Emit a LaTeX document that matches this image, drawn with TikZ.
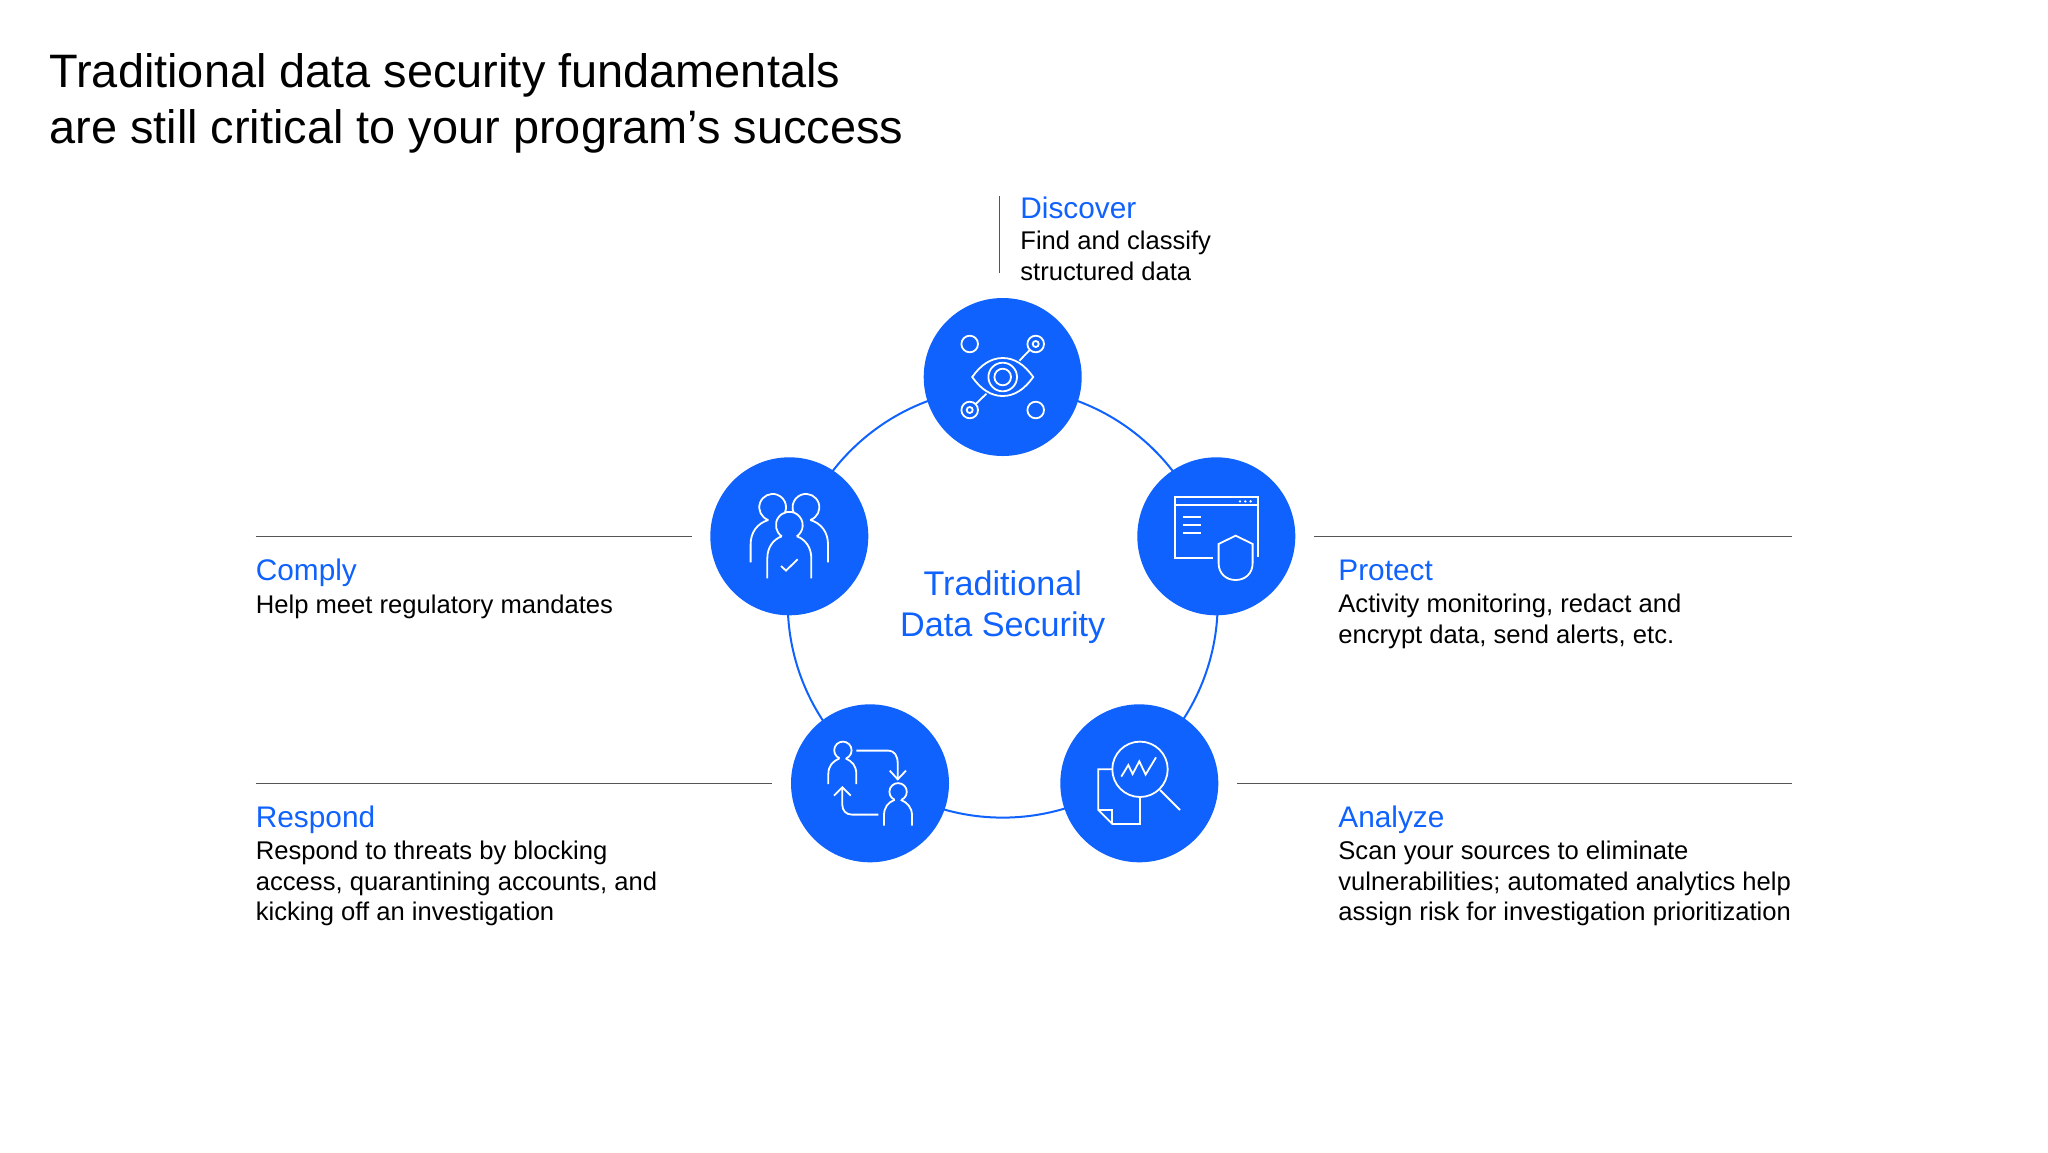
\documentclass[tikz,border=0pt]{standalone}
\usepackage{fontspec}
\setmainfont{Liberation Sans}
\definecolor{ibmblue}{HTML}{0F62FE}
\definecolor{ruleline}{HTML}{555555}
\tikzset{
    stagenode/.style={circle,fill=ibmblue,minimum size=79pt,inner sep=0pt},
    ringnode/.style={circle,draw=ibmblue,line width=1pt,minimum size=215pt,inner sep=0pt},
    iconline/.style={white,line width=0.9pt},
    leaderline/.style={ruleline,line width=0.55pt},
    headtext/.style={anchor=base west,inner sep=0pt,text=ibmblue,font=\fontsize{14.9}{17}\selectfont},
    bodytext/.style={anchor=north west,inner sep=0pt,align=left,text=black,font=\fontsize{12.8}{15.35}\selectfont},
}
\begin{document}
\begin{tikzpicture}[x=0.5pt,y=-0.5pt]
    \useasboundingbox (0,0) rectangle (2048,1152);
    \node[anchor=north west,inner sep=0pt,align=left,font=\fontsize{23.45}{28}\selectfont] (title) at (49,53) {Traditional data security fundamentals\\are still critical to your program’s success};

    \node[ringnode] (ring) at (1002.7,602.6) {};
    \node[stagenode] (discover) at (1002.7,377) {};
    \node[stagenode] (protect) at (1216.3,536.3) {};
    \node[stagenode] (analyze) at (1139.3,783.3) {};
    \node[stagenode] (respond) at (870,783.3) {};
    \node[stagenode] (comply) at (789.3,536.3) {};
    \node[anchor=center,align=center,inner sep=0pt,text=ibmblue,font=\fontsize{17.1}{20.5}\selectfont] (center) at (1002.7,607.5) {Traditional\\Data Security};

    % leader rules
    \coordinate (discoverA) at (999.5,196);
    \coordinate (discoverB) at (999.5,273);
    \coordinate (protectA) at (1314,536.5);
    \coordinate (protectB) at (1792,536.5);
    \coordinate (analyzeA) at (1237,783.5);
    \coordinate (analyzeB) at (1792,783.5);
    \coordinate (respondA) at (255.5,783.5);
    \coordinate (respondB) at (772,783.5);
    \coordinate (complyA) at (255.5,536.5);
    \coordinate (complyB) at (691.5,536.5);
    \draw[leaderline] (discoverA) -- (discoverB);
    \draw[leaderline] (protectA) -- (protectB);
    \draw[leaderline] (analyzeA) -- (analyzeB);
    \draw[leaderline] (respondA) -- (respondB);
    \draw[leaderline] (complyA) -- (complyB);

    % labels
    \node[headtext] (discoverhead) at (1020,218) {Discover};
    \node[bodytext] (discoverbody) at (1020,230.5) {Find and classify\\structured data};
    \node[headtext] (protecthead) at (1338,580) {Protect};
    \node[bodytext] (protectbody) at (1338,593.5) {Activity monitoring, redact and\\encrypt data, send alerts, etc.};
    \node[headtext] (analyzehead) at (1338,827) {Analyze};
    \node[bodytext] (analyzebody) at (1338,840.5) {Scan your sources to eliminate\\vulnerabilities; automated analytics help\\assign risk for investigation prioritization};
    \node[headtext] (respondhead) at (255.5,827) {Respond};
    \node[bodytext] (respondbody) at (255.5,840.5) {Respond to threats by blocking\\access, quarantining accounts, and\\kicking off an investigation};
    \node[headtext] (complyhead) at (255.5,580) {Comply};
    \node[bodytext] (complybody) at (255.5,594.5) {Help meet regulatory mandates};

    % eye icon
    \begin{scope}[shift={(discover)},iconline]
        \draw (-30.5,0) .. controls (-22,-12) and (-12,-19) .. (0,-19) .. controls (12,-19) and (22,-12) .. (30.5,0) .. controls (22,12) and (12,19) .. (0,19) .. controls (-12,19) and (-22,12) .. (-30.5,0) -- cycle;
        \draw (0,0) circle (14.3);
        \draw (0,0) circle (8.3);
        \draw (-33,-33) circle (8.3);
        \draw (33,33) circle (8.3);
        \draw (33,-33) circle (8.3);
        \draw (33,-33) circle (3);
        \draw (-33,33) circle (8.3);
        \draw (-33,33) circle (3);
        \draw (16.7,-16.3) -- (26.7,-26.7);
        \draw (-16.3,16.7) -- (-26.7,26.7);
    \end{scope}

    % window and shield icon
    \begin{scope}[shift={(protect)},iconline]
        \draw (-3,21.7) -- (-41.3,21.7) -- (-41.3,-39) -- (42,-39) -- (42,21);
        \draw (-41.3,-31.3) -- (42,-31.3);
        \fill (23.7,-34.9) circle (1.3);
        \fill (29,-34.9) circle (1.3);
        \fill (34.3,-34.9) circle (1.3);
        \draw (-33.7,-19.7) -- (-15.3,-19.7);
        \draw (-33.7,-11.3) -- (-15.3,-11.3);
        \draw (-33.7,-3.3) -- (-15.3,-3.3);
        \draw (19.3,-0.7) -- (36.3,7.7) -- (36.3,27) .. controls (36.3,37) and (29,43.7) .. (19.3,43.7) .. controls (9.6,43.7) and (2.3,37) .. (2.3,27) -- (2.3,7.7) -- cycle;
    \end{scope}

    % magnifier and document icon
    \begin{scope}[shift={(analyze)},iconline]
        \draw (0.7,-14) circle (27.7);
        \draw (20.7,6.7) -- (40.7,26.7);
        \draw (-18,-6.7) -- (-11,-18.3) -- (-6.7,-9.3) -- (0,-22) -- (6.3,-8.7) -- (16.7,-26);
        \draw (-27.3,-14) -- (-41,-14) -- (-41,26.7) -- (-27,40.7) -- (0.7,40.7) -- (0.7,13.3);
        \draw (-41,26.7) -- (-27.7,26.7) -- (-27.7,40.7);
    \end{scope}

    % two persons and arrows icon
    \begin{scope}[shift={(respond)},iconline]
        \draw (-30.5,-25) arc[start angle=113,end angle=427,radius=8.7];
        \draw (-30.5,-25) .. controls (-37,-22) and (-41.7,-18) .. (-41.7,-9) -- (-41.7,0.7);
        \draw (-24.5,-25) .. controls (-18,-22) and (-13.7,-18) .. (-13.7,-9) -- (-13.7,0.7);
        \draw (24.7,16.5) arc[start angle=113,end angle=427,radius=8.7];
        \draw (24.7,16.5) .. controls (18,19) and (14,24) .. (14,32) -- (14,42.3);
        \draw (30.7,16.5) .. controls (37,19) and (42,24) .. (42,32) -- (42,42.3);
        \draw (-13.7,-32.7) -- (18.3,-32.7) .. controls (24,-32.7) and (27.7,-28) .. (27.7,-20) -- (27.7,-4);
        \draw (19.7,-12.7) -- (27.7,-4) -- (36,-12.7);
        \draw (8.3,31.3) -- (-18.3,31.3) .. controls (-24,31.3) and (-27.7,27) .. (-27.7,21.7) -- (-27.7,4);
        \draw (-36,12.3) -- (-27.7,4) -- (-19.3,12.3);
    \end{scope}

    % three persons icon
    \begin{scope}[shift={(comply)},iconline]
        \draw (-21,-16.3) arc[start angle=109,end angle=384,radius=13.4];
        \draw (-21,-16.3) .. controls (-32,-13) and (-38.7,-4) .. (-38.7,8) -- (-38.7,26);
        \draw (21,-16.3) arc[start angle=71,end angle=-204,radius=13.4];
        \draw (21,-16.3) .. controls (32,-13) and (38.7,-4) .. (38.7,8) -- (38.7,26);
        \draw (-7.5,0) arc[start angle=124,end angle=416,radius=13.4];
        \draw (-7.5,0) .. controls (-16,3) and (-22,11) .. (-22,22) -- (-22,42);
        \draw (7.5,0) .. controls (16,3) and (22,11) .. (22,22) -- (22,42);
        \draw (-8.3,29.7) -- (-3.3,34.3) -- (8.3,23);
    \end{scope}
\end{tikzpicture}
\end{document}
